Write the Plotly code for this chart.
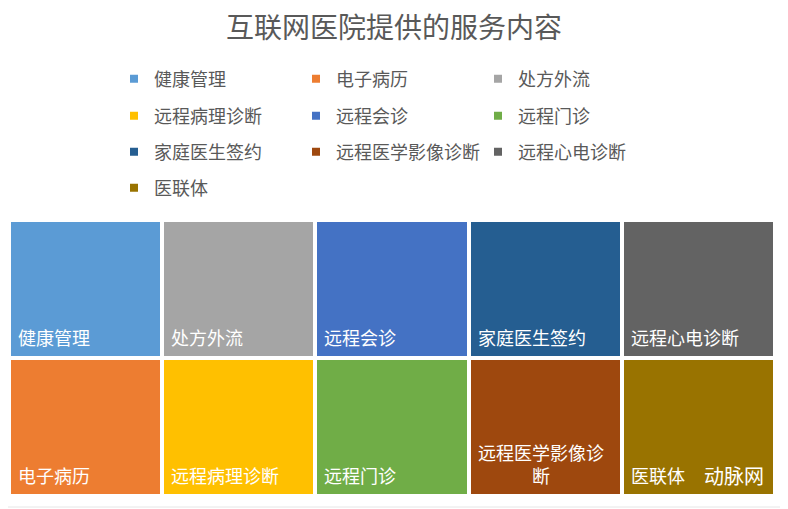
import plotly.graph_objects as go

# ---- data ----
services = ["健康管理", "电子病历", "处方外流", "远程病理诊断", "远程会诊",
            "远程门诊", "家庭医生签约", "远程医学影像诊断", "远程心电诊断", "医联体"]
cell_labels = ["健康管理", "电子病历", "处方外流", "远程病理诊断", "远程会诊",
               "远程门诊", "家庭医生签约", "远程医学影像诊<br>断", "远程心电诊断", "医联体"]
values = [1, 1, 1, 1, 1, 1, 1, 1, 1, 1]
grid_column = [0, 0, 1, 1, 2, 2, 3, 3, 4, 4]
grid_row = [1, 0, 1, 0, 1, 0, 1, 0, 1, 0]   # 1 = upper row, 0 = lower row
colors = ["#5B9BD5", "#ED7D31", "#A5A5A5", "#FFC000", "#4472C4",
          "#70AD47", "#255E91", "#9E480E", "#636363", "#997300"]
title_text = "互联网医院提供的服务内容"

FONT = "Noto Sans CJK SC, Microsoft YaHei, sans-serif"
W, H = 788, 509
OFF = 8  # page body margin offset
ML, MR, MT, MB = 9 - OFF, 13 + OFF, 220 - OFF, 13 + OFF
PW, PH = W - ML - MR, H - MT - MB

fig = go.Figure()
legend_ids = ["legend", "legend2", "legend3", "legend4"]
for i, name in enumerate(services):
    fig.add_trace(go.Bar(
        x=[grid_column[i]], y=[values[i]], base=[grid_row[i]],
        name=name, marker=dict(color=colors[i], line=dict(color="white", width=4)),
        legend=legend_ids[i // 3], hoverinfo="name",
    ))
    fig.add_annotation(
        x=grid_column[i] - 0.5, y=grid_row[i], xref="x", yref="y",
        text=cell_labels[i], showarrow=False, xanchor="left", yanchor="bottom",
        align="center", xshift=7, yshift=6,
        font=dict(family=FONT, size=18, color="white"),
    )

row_centers = [79, 116, 152, 188]
legend_layout = {}
for k, lid in enumerate(legend_ids):
    legend_layout[lid] = dict(
        orientation="h", xref="container", yref="container",
        x=(114 - OFF) / W, y=1 - (row_centers[k] - OFF) / H, xanchor="left", yanchor="middle",
        entrywidth=137, itemwidth=30, bgcolor="rgba(0,0,0,0)",
        font=dict(family=FONT, size=18, color="#595959"),
    )

fig.add_annotation(
    x=(734 - OFF - ML) / PW, y=(H - MB - (475 - OFF)) / PH, xref="paper", yref="paper",
    text="动脉网", showarrow=False, xanchor="center", yanchor="middle",
    font=dict(family=FONT, size=20, color="white"),
)

# faint outer frame (right and bottom edges visible in the reference)
frame_x = (785 - OFF - ML) / PW
frame_y = (H - MB - (507 - OFF)) / PH
frame_top = (H - MB - 0) / PH
fig.add_shape(type="line", xref="paper", yref="paper", x0=frame_x, x1=frame_x,
              y0=frame_y, y1=frame_top, line=dict(color="#E6E6E6", width=1))
fig.add_shape(type="line", xref="paper", yref="paper", x0=-0.05, x1=frame_x,
              y0=frame_y, y1=frame_y, line=dict(color="#E6E6E6", width=1))

fig.update_layout(
    width=W, height=H,
    barmode="overlay", bargap=0,
    margin=dict(l=ML, r=MR, t=MT, b=MB),
    paper_bgcolor="white", plot_bgcolor="white",
    title=dict(text=title_text, x=(394 - OFF) / W, xanchor="center", y=1 - (28 - OFF) / H,
               yanchor="middle", xref="container", yref="container",
               font=dict(family=FONT, size=28, color="#595959")),
    xaxis=dict(range=[-0.5, 4.5], visible=False, fixedrange=True),
    yaxis=dict(range=[0, 2], visible=False, fixedrange=True),
    showlegend=True,
    **legend_layout,
)

fig.write_html("out.html")
